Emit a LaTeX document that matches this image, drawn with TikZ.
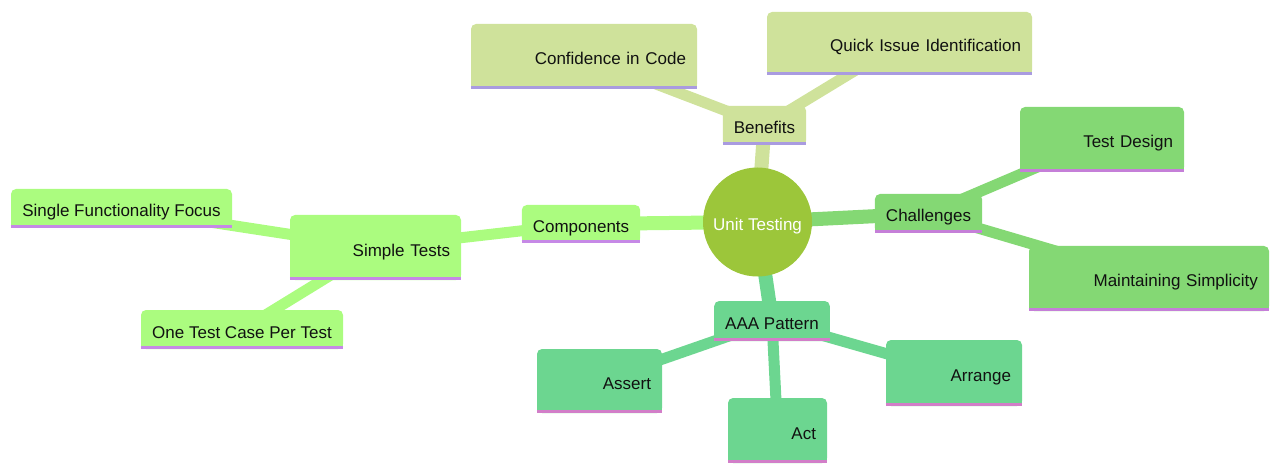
\documentclass[tikz,border=0pt]{standalone}
\usepackage{fontspec}
\setmainfont{Liberation Sans}
\usetikzlibrary{calc}
\definecolor{benF}{HTML}{CFE29B}
\definecolor{benL}{HTML}{A99BE0}
\definecolor{comF}{HTML}{ABFC7F}
\definecolor{comL}{HTML}{C689E6}
\definecolor{chaF}{HTML}{84D874}
\definecolor{chaL}{HTML}{C57FD8}
\definecolor{aaaF}{HTML}{6CD690}
\definecolor{aaaL}{HTML}{D27EC8}
\definecolor{rootF}{HTML}{9CC63A}
\definecolor{txt}{HTML}{111111}
\pgfdeclarelayer{bg}
\pgfsetlayers{bg,main}
\tikzset{
  mmbox/.style={rectangle, rounded corners=5pt, fill=#1, inner xsep=11pt, inner ysep=0pt, text=txt, text height=17pt, text depth=0pt},
  boxsize/.style 2 args={minimum width=#1, minimum height=#2},
  rtext/.style={text width=#1, align=right},
  rootnode/.style={circle, fill=rootF, inner sep=0pt, minimum size=109pt, text=white, text height=17pt, text depth=0pt},
  edgeone/.style={line width=14pt, draw=#1},
  edgetwo/.style={line width=11pt, draw=#1},
  barline/.style={line width=3pt, draw=#1},
}
\begin{document}
\begin{tikzpicture}[x=1pt, y=-1pt, font=\fontsize{17}{20}\selectfont]
\useasboundingbox (0,0) rectangle (1280,473);
% nodes
\node[rootnode] (root) at (757.5,222) {Unit Testing};
\node[mmbox=benF, boxsize={83}{39}] (benefits) at (764.5,125.5) {Benefits};
\node[mmbox=benF, boxsize={226}{65}, rtext=204pt] (conf) at (584,56.5) {Confidence in Code};
\node[mmbox=benF, boxsize={265}{63}, rtext=243pt] (quick) at (899.5,43.5) {Quick Issue Identification};
\node[mmbox=comF, boxsize={118}{38}] (comp) at (581,224) {Components};
\node[mmbox=comF, boxsize={171}{65}, rtext=149pt] (simple) at (375.5,247.5) {Simple Tests};
\node[mmbox=comF, boxsize={221}{39}] (single) at (121.5,208.5) {Single Functionality Focus};
\node[mmbox=comF, boxsize={202}{39}] (onetest) at (242,329.5) {One Test Case Per Test};
\node[mmbox=chaF, boxsize={107}{39}] (chal) at (928.5,213.5) {Challenges};
\node[mmbox=chaF, boxsize={164}{65}, rtext=142pt] (design) at (1102,139.5) {Test Design};
\node[mmbox=chaF, boxsize={240}{65}, rtext=218pt] (maint) at (1149,278.5) {Maintaining Simplicity};
\node[mmbox=aaaF, boxsize={114}{40}] (aaa) at (772,321) {AAA Pattern};
\node[mmbox=aaaF, boxsize={125}{64}, rtext=103pt] (assert) at (599.5,381) {Assert};
\node[mmbox=aaaF, boxsize={99}{65}, rtext=77pt] (act) at (777.5,430.5) {Act};
\node[mmbox=aaaF, boxsize={136}{66}, rtext=114pt] (arrange) at (954,373) {Arrange};
% edges and square bottoms behind
\begin{pgfonlayer}{bg}
\draw[edgeone=benF] (root.center) -- (benefits.center);
\draw[edgetwo=benF] (benefits.center) -- (conf.center);
\draw[edgetwo=benF] (benefits.center) -- (quick.center);
\draw[edgeone=comF] (root.center) -- (comp.center);
\draw[edgetwo=comF] (comp.center) -- (simple.center);
\draw[edgetwo=comF] (simple.center) -- (single.center);
\draw[edgetwo=comF] (simple.center) -- (onetest.center);
\draw[edgeone=chaF] (root.center) -- (chal.center);
\draw[edgetwo=chaF] (chal.center) -- (design.center);
\draw[edgetwo=chaF] (chal.center) -- (maint.center);
\draw[edgeone=aaaF] (root.center) -- (aaa.center);
\draw[edgetwo=aaaF] (aaa.center) -- (assert.center);
\draw[edgetwo=aaaF] (aaa.center) -- (act.center);
\draw[edgetwo=aaaF] (aaa.center) -- (arrange.center);
\foreach \n/\c in {benefits/benF, conf/benF, quick/benF, comp/comF, simple/comF, single/comF, onetest/comF, chal/chaF, design/chaF, maint/chaF, aaa/aaaF, assert/aaaF, act/aaaF, arrange/aaaF}
  \fill[\c] (\n.west) rectangle (\n.south east);
\end{pgfonlayer}
% bottom bars
\foreach \n/\c in {benefits/benL, conf/benL, quick/benL, comp/comL, simple/comL, single/comL, onetest/comL, chal/chaL, design/chaL, maint/chaL, aaa/aaaL, assert/aaaL, act/aaaL, arrange/aaaL}
  \draw[barline=\c] ([yshift=1.5pt]\n.south west) -- ([yshift=1.5pt]\n.south east);
\end{tikzpicture}
\end{document}
